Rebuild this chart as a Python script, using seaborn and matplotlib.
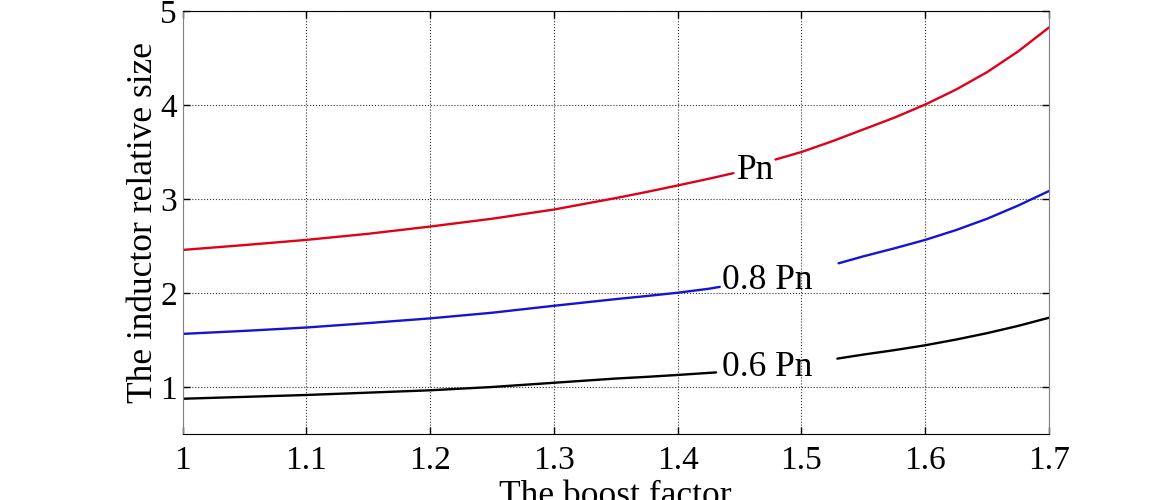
import pandas as pd
import seaborn as sns
import matplotlib.pyplot as plt

# values, split where the inline labels cut the curves
boost_left = [1.0, 1.05, 1.1, 1.15, 1.2, 1.25, 1.3, 1.35, 1.375, 1.4, 1.425]
boost_right = [1.55, 1.575, 1.6, 1.625, 1.65, 1.675, 1.7]

red_x_left = boost_left + [1.445]
red_y_left = [2.458, 2.51, 2.565, 2.63, 2.707, 2.79, 2.888, 3.01, 3.075, 3.144, 3.215, 3.275]
red_x_right = [1.479, 1.5, 1.525] + boost_right
red_y_right = [3.42, 3.50, 3.615, 3.74, 3.865, 4.005, 4.165, 4.35, 4.57, 4.825]

blue_x_left = boost_left + [1.434]
blue_y_left = [1.565, 1.597, 1.633, 1.68, 1.73, 1.79, 1.864, 1.935, 1.968, 2.003, 2.045, 2.065]
blue_x_right = [1.53] + boost_right
blue_y_right = [2.316, 2.39, 2.475, 2.565, 2.67, 2.79, 2.93, 3.085]

black_x_left = boost_left + [1.431]
black_y_left = [0.875, 0.895, 0.915, 0.94, 0.965, 1.0, 1.045, 1.09, 1.108, 1.128, 1.15, 1.155]
black_x_right = [1.529] + boost_right
black_y_right = [1.302, 1.345, 1.392, 1.444, 1.505, 1.573, 1.65, 1.737]

curve_names = ["Pn", "0.8 Pn", "0.6 Pn"]
label_x = [1.463, 1.472, 1.472]
label_y = [3.30, 2.13, 1.203]

rows = []
pieces = [
    ("Pn", red_x_left, red_y_left, red_x_right, red_y_right),
    ("0.8 Pn", blue_x_left, blue_y_left, blue_x_right, blue_y_right),
    ("0.6 Pn", black_x_left, black_y_left, black_x_right, black_y_right),
]
for name, xl, yl, xr, yr in pieces:
    for x, y in zip(xl, yl):
        rows.append({"boost": x, "size": y, "curve": name, "seg": name + "_a"})
    for x, y in zip(xr, yr):
        rows.append({"boost": x, "size": y, "curve": name, "seg": name + "_b"})
df = pd.DataFrame(rows)

sns.set_style("ticks")
plt.rcParams["font.family"] = ["Liberation Serif", "DejaVu Serif"]
plt.rcParams["text.color"] = "black"
plt.rcParams["axes.labelcolor"] = "black"
plt.rcParams["xtick.color"] = "black"
plt.rcParams["ytick.color"] = "black"

fig = plt.figure(figsize=(11.63, 5), dpi=100)
ax = fig.add_axes([0.157, 0.132, 0.745, 0.846])

palette = {"Pn": "#e0001a", "0.8 Pn": "#1414d2", "0.6 Pn": "#000000"}
sns.lineplot(data=df, x="boost", y="size", hue="curve", units="seg",
             estimator=None, palette=palette, linewidth=1.7, legend=False,
             sort=False, ax=ax)

for name, lx, ly in zip(curve_names, label_x, label_y):
    ax.text(lx, ly, name, ha="center", va="center", fontsize=25.5)

ax.set_xlim(1, 1.7)
ax.set_ylim(0.5, 5)
ax.set_xticks([1, 1.1, 1.2, 1.3, 1.4, 1.5, 1.6, 1.7])
ax.set_xticklabels(["1", "1.1", "1.2", "1.3", "1.4", "1.5", "1.6", "1.7"])
ax.set_yticks([1, 2, 3, 4, 5])
ax.grid(True, linestyle=":", color="black", linewidth=0.8, alpha=0.8)
ax.tick_params(direction="in", length=5, width=1, labelsize=24,
               top=True, right=True)
ax.tick_params(axis="x", pad=8)
ax.tick_params(axis="y", pad=4)
for side in ["top", "bottom"]:
    ax.spines[side].set_color("black")
for side in ["left", "right"]:
    ax.spines[side].set_color("#808080")

ax.set_xlabel("The boost factor", fontsize=25.5, labelpad=3)
ax.set_ylabel("The inductor relative size", fontsize=25.5, labelpad=0)

fig.savefig("out.png", dpi=100)
